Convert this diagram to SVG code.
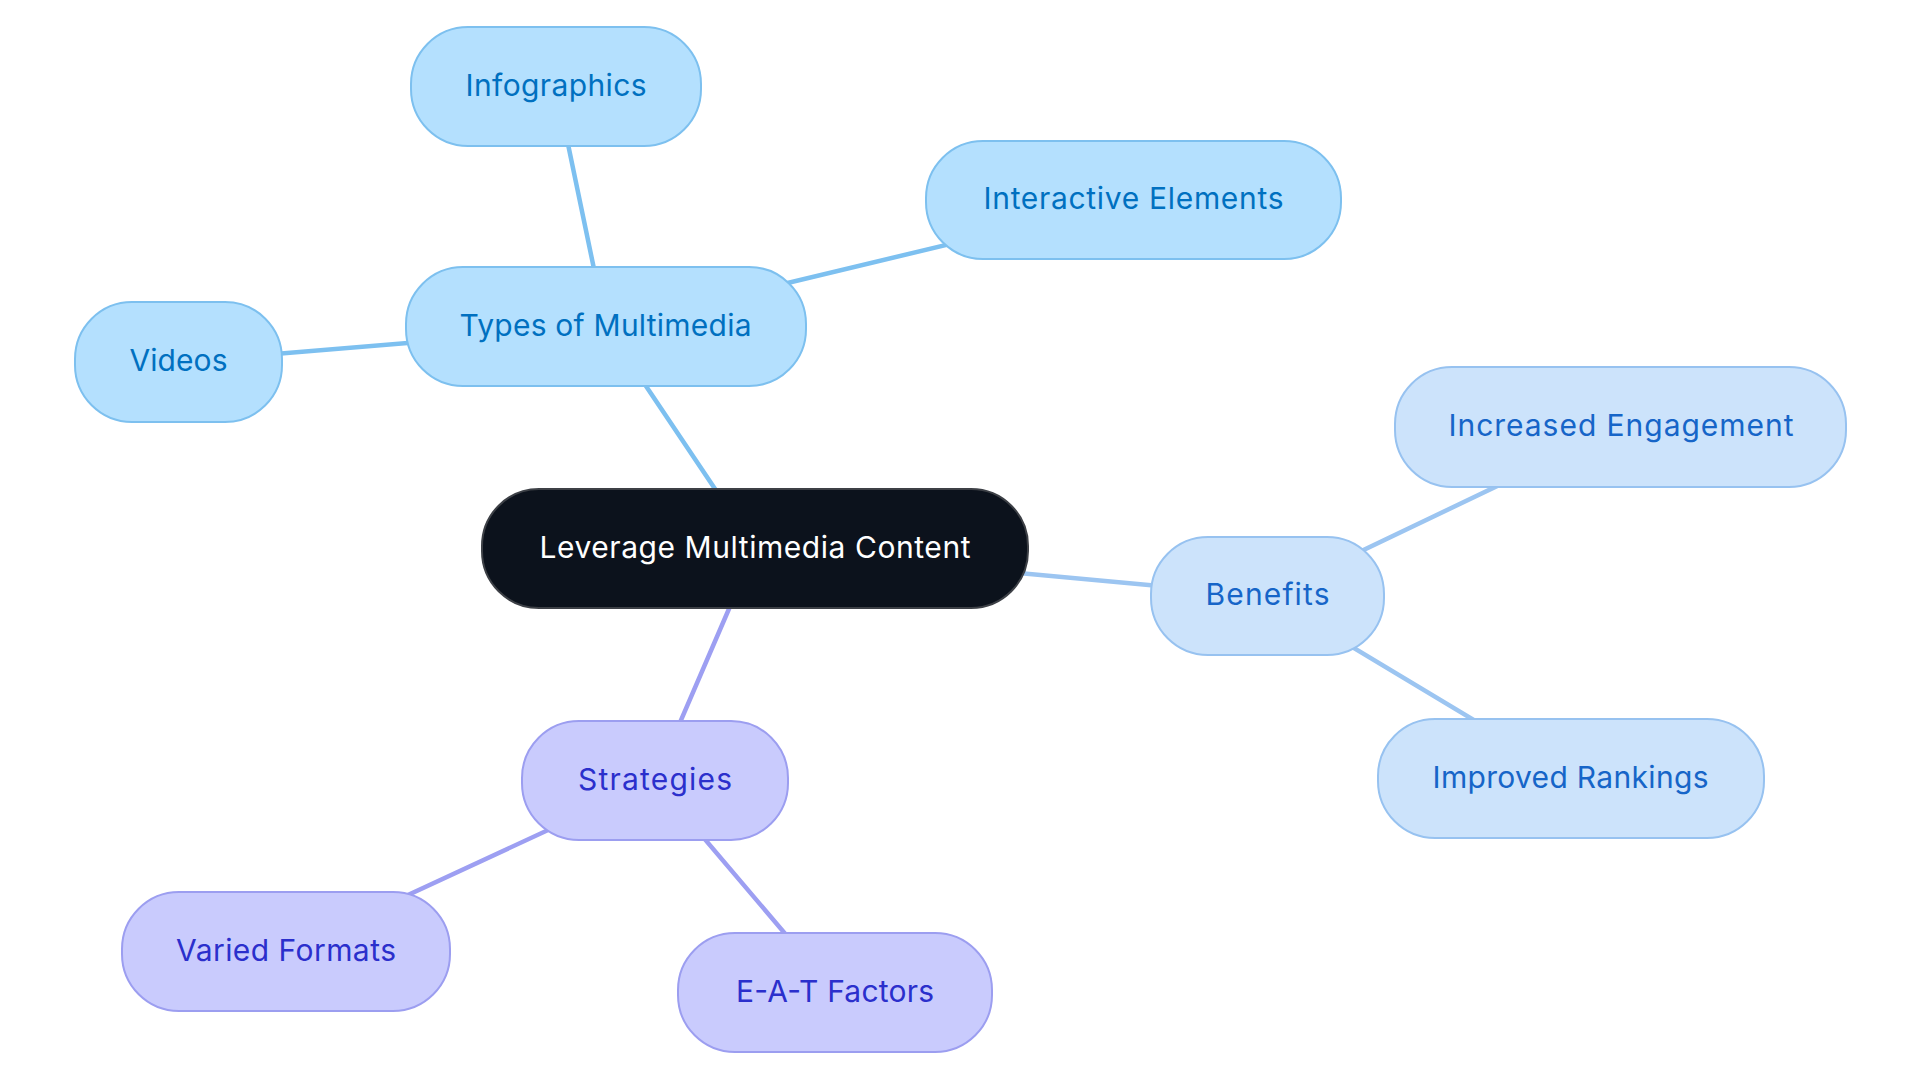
<svg xmlns="http://www.w3.org/2000/svg" width="1920" height="1083" viewBox="0 0 1920 1083">
<style>
.n rect{stroke-width:2}
.n text{font-family:Inter,"Noto Sans","Liberation Sans",sans-serif;font-size:30px;text-anchor:middle}
.root rect{fill:#0c121c;stroke:#3d4046}
.root text{fill:#ffffff}
.t rect{fill:#b4e0fe;stroke:#7dc0ef}
.t text{fill:#0070c0}
.b rect{fill:#cce3fb;stroke:#97c2f0}
.b text{fill:#1665c8}
.s rect{fill:#c9cbfd;stroke:#9c9ef0}
.s text{fill:#2b2fcc}
.e line{stroke-width:4.5;stroke-linecap:round}
.et{stroke:#7dc0f0}
.eb{stroke:#9cc5f1}
.es{stroke:#9d9ff2}
</style>
<rect width="1920" height="1083" fill="#ffffff"/>
<g id="connectors" class="e">
<line class="et" x1="755" y1="548.5" x2="606" y2="326.5"/>
<line class="eb" x1="755" y1="548.5" x2="1267.5" y2="596"/>
<line class="es" x1="755" y1="548.5" x2="655" y2="780.5"/>
<line class="et" x1="606" y1="326.5" x2="556" y2="86.5"/>
<line class="et" x1="606" y1="326.5" x2="1133.5" y2="200"/>
<line class="et" x1="606" y1="326.5" x2="178.5" y2="362"/>
<line class="eb" x1="1267.5" y1="596" x2="1620.5" y2="427"/>
<line class="eb" x1="1267.5" y1="596" x2="1571" y2="778.5"/>
<line class="es" x1="655" y1="780.5" x2="286" y2="951.5"/>
<line class="es" x1="655" y1="780.5" x2="835" y2="992.5"/>
</g>
<g id="root" class="n root">
<rect x="482" y="489" width="546" height="119" rx="57"/>
<text x="755" y="557.5" textLength="431">Leverage Multimedia Content</text>
</g>
<g id="types" class="n t">
<rect x="406" y="267" width="400" height="119" rx="57"/>
<text x="605.5" y="335.5" textLength="292">Types of Multimedia</text>
</g>
<g id="infographics" class="n t">
<rect x="411" y="27" width="290" height="119" rx="57"/>
<text x="556" y="95.5" textLength="181">Infographics</text>
</g>
<g id="interactive" class="n t">
<rect x="926" y="141" width="415" height="118" rx="57"/>
<text x="1133.5" y="209" textLength="300">Interactive Elements</text>
</g>
<g id="videos" class="n t">
<rect x="75" y="302" width="207" height="120" rx="57"/>
<text x="178.5" y="371" textLength="98">Videos</text>
</g>
<g id="benefits" class="n b">
<rect x="1151" y="537" width="233" height="118" rx="57"/>
<text x="1267.5" y="605" textLength="124">Benefits</text>
</g>
<g id="increased" class="n b">
<rect x="1395" y="367" width="451" height="120" rx="57"/>
<text x="1621" y="436" textLength="345">Increased Engagement</text>
</g>
<g id="improved" class="n b">
<rect x="1378" y="719" width="386" height="119" rx="57"/>
<text x="1570.5" y="787.5" textLength="276">Improved Rankings</text>
</g>
<g id="strategies" class="n s">
<rect x="522" y="721" width="266" height="119" rx="57"/>
<text x="655" y="789.5" textLength="154">Strategies</text>
</g>
<g id="varied" class="n s">
<rect x="122" y="892" width="328" height="119" rx="57"/>
<text x="286" y="960.5" textLength="220">Varied Formats</text>
</g>
<g id="eat" class="n s">
<rect x="678" y="933" width="314" height="119" rx="57"/>
<text x="835" y="1001.5" textLength="198">E-A-T Factors</text>
</g>
</svg>
